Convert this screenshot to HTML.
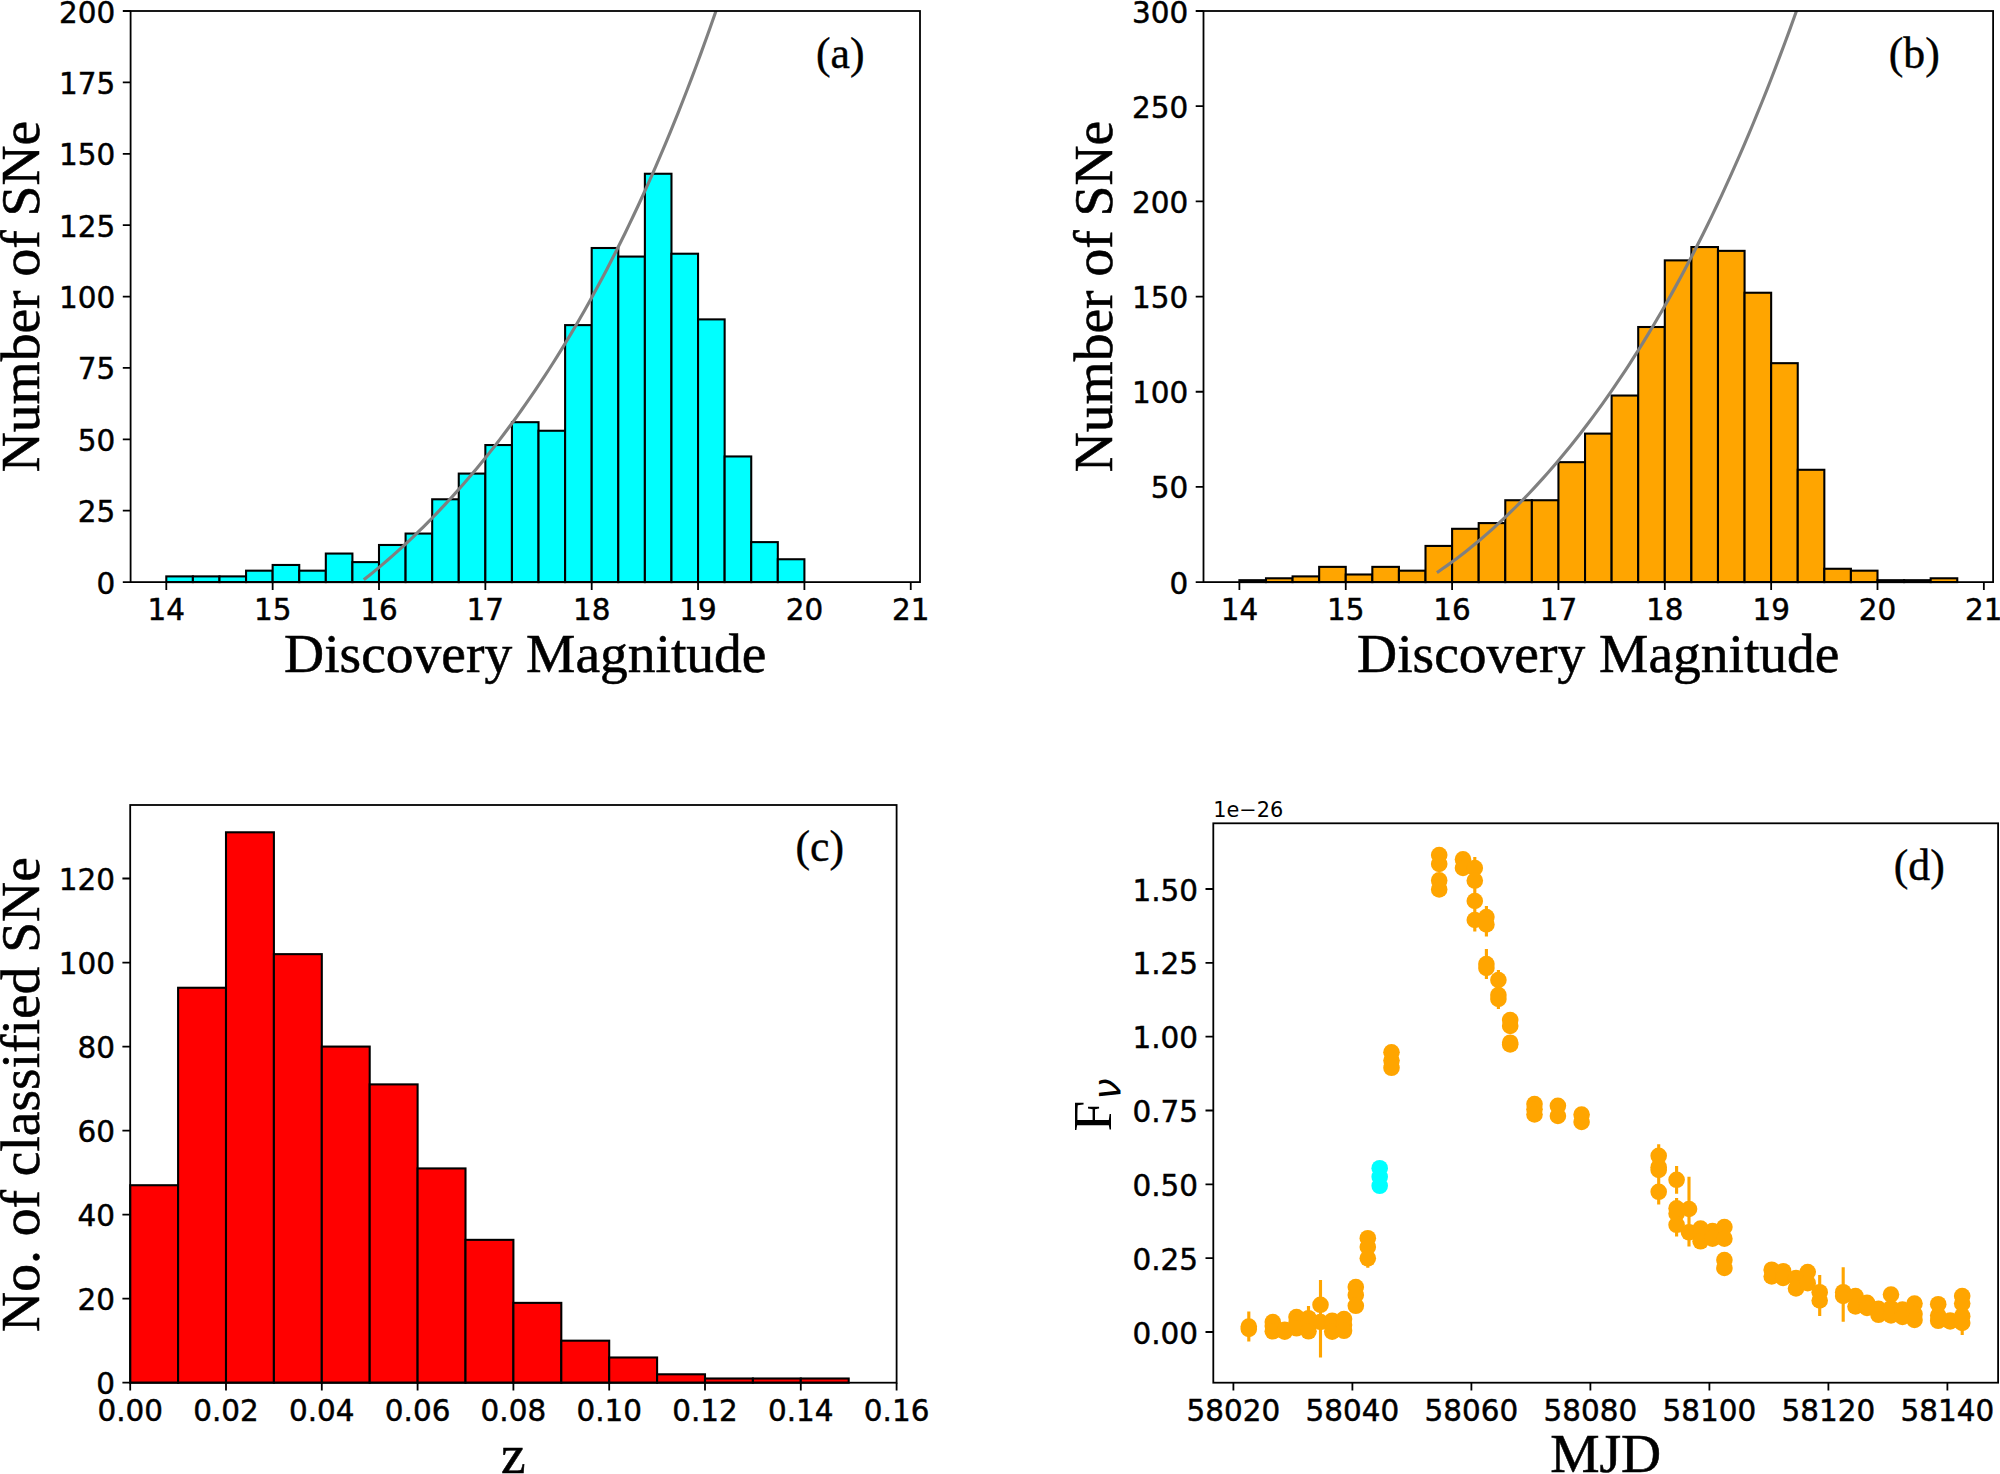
<!DOCTYPE html>
<html lang="en">
<head>
<meta charset="utf-8">
<title>Supernova discovery statistics</title>
<style>
html,body{margin:0;padding:0;background:#fff;}
body{width:2000px;height:1474px;overflow:hidden;}
svg{display:block;}
text{white-space:pre;}
</style>
</head>
<body>
<svg width="2000" height="1474" viewBox="0 0 2000 1474">
<rect width="2000" height="1474" fill="#fff"/>
<g id="panel-a">
<rect x="166.3" y="576.39" width="26.59" height="5.71" fill="#00ffff" stroke="#000" stroke-width="2.08"/>
<rect x="192.89" y="576.39" width="26.59" height="5.71" fill="#00ffff" stroke="#000" stroke-width="2.08"/>
<rect x="219.48" y="576.39" width="26.59" height="5.71" fill="#00ffff" stroke="#000" stroke-width="2.08"/>
<rect x="246.06" y="570.68" width="26.59" height="11.42" fill="#00ffff" stroke="#000" stroke-width="2.08"/>
<rect x="272.65" y="564.97" width="26.59" height="17.13" fill="#00ffff" stroke="#000" stroke-width="2.08"/>
<rect x="299.24" y="570.68" width="26.59" height="11.42" fill="#00ffff" stroke="#000" stroke-width="2.08"/>
<rect x="325.82" y="553.55" width="26.59" height="28.55" fill="#00ffff" stroke="#000" stroke-width="2.08"/>
<rect x="352.41" y="562.11" width="26.59" height="19.99" fill="#00ffff" stroke="#000" stroke-width="2.08"/>
<rect x="379" y="544.98" width="26.59" height="37.12" fill="#00ffff" stroke="#000" stroke-width="2.08"/>
<rect x="405.59" y="533.56" width="26.59" height="48.54" fill="#00ffff" stroke="#000" stroke-width="2.08"/>
<rect x="432.18" y="499.29" width="26.59" height="82.81" fill="#00ffff" stroke="#000" stroke-width="2.08"/>
<rect x="458.76" y="473.59" width="26.59" height="108.51" fill="#00ffff" stroke="#000" stroke-width="2.08"/>
<rect x="485.35" y="445.04" width="26.59" height="137.06" fill="#00ffff" stroke="#000" stroke-width="2.08"/>
<rect x="511.94" y="422.19" width="26.59" height="159.91" fill="#00ffff" stroke="#000" stroke-width="2.08"/>
<rect x="538.52" y="430.76" width="26.59" height="151.34" fill="#00ffff" stroke="#000" stroke-width="2.08"/>
<rect x="565.11" y="325.11" width="26.59" height="257" fill="#00ffff" stroke="#000" stroke-width="2.08"/>
<rect x="591.7" y="248.01" width="26.59" height="334.09" fill="#00ffff" stroke="#000" stroke-width="2.08"/>
<rect x="618.29" y="256.57" width="26.59" height="325.53" fill="#00ffff" stroke="#000" stroke-width="2.08"/>
<rect x="644.88" y="173.76" width="26.59" height="408.34" fill="#00ffff" stroke="#000" stroke-width="2.08"/>
<rect x="671.46" y="253.72" width="26.59" height="328.38" fill="#00ffff" stroke="#000" stroke-width="2.08"/>
<rect x="698.05" y="319.39" width="26.59" height="262.71" fill="#00ffff" stroke="#000" stroke-width="2.08"/>
<rect x="724.64" y="456.46" width="26.59" height="125.64" fill="#00ffff" stroke="#000" stroke-width="2.08"/>
<rect x="751.22" y="542.12" width="26.59" height="39.98" fill="#00ffff" stroke="#000" stroke-width="2.08"/>
<rect x="777.81" y="559.26" width="26.59" height="22.84" fill="#00ffff" stroke="#000" stroke-width="2.08"/>
<rect x="804.4" y="582.1" width="26.59" height="0" fill="#00ffff" stroke="#000" stroke-width="2.08"/>
<rect x="830.99" y="582.1" width="26.59" height="0" fill="#00ffff" stroke="#000" stroke-width="2.08"/>
<rect x="857.58" y="582.1" width="26.59" height="0" fill="#00ffff" stroke="#000" stroke-width="2.08"/>
<clipPath id="clipa"><rect x="130.6" y="11" width="789.4" height="571.1"/></clipPath>
<path d="M365 578.8 L369.48 575.23 L373.95 571.6 L378.43 567.89 L382.91 564.12 L387.39 560.28 L391.86 556.37 L396.34 552.39 L400.82 548.35 L405.29 544.23 L409.77 540.04 L414.25 535.78 L418.73 531.44 L423.2 527.04 L427.68 522.56 L432.16 518 L436.64 513.37 L441.11 508.67 L445.59 503.89 L450.07 499.03 L454.54 494.09 L459.02 489.07 L463.5 483.98 L467.98 478.8 L472.45 473.53 L476.93 468.19 L481.41 462.75 L485.88 457.23 L490.36 451.63 L494.84 445.93 L499.32 440.14 L503.79 434.26 L508.27 428.29 L512.75 422.22 L517.23 416.05 L521.7 409.78 L526.18 403.42 L530.66 396.95 L535.13 390.38 L539.61 383.7 L544.09 376.91 L548.57 370.02 L553.04 363.01 L557.52 355.89 L562 348.65 L566.47 341.3 L570.95 333.83 L575.43 326.23 L579.91 318.51 L584.38 310.66 L588.86 302.69 L593.34 294.58 L597.82 286.34 L602.29 277.96 L606.77 269.44 L611.25 260.78 L615.72 251.98 L620.2 243.03 L624.68 233.94 L629.16 224.69 L633.63 215.28 L638.11 205.72 L642.59 196 L647.06 186.11 L651.54 176.06 L656.02 165.83 L660.5 155.44 L664.97 144.87 L669.45 134.12 L673.93 123.19 L678.41 112.07 L682.88 100.77 L687.36 89.27 L691.84 77.58 L696.31 65.69 L700.79 53.6 L705.27 41.3 L709.75 28.8 L714.22 16.08 L718.7 3.14" fill="none" stroke="#808080" stroke-width="3.13" stroke-linecap="square" clip-path="url(#clipa)"/>
<rect x="130.6" y="11" width="789.4" height="571.1" fill="none" stroke="#000" stroke-width="1.8"/>
<path d="M166.3 582.1v7.8M272.65 582.1v7.8M379 582.1v7.8M485.35 582.1v7.8M591.7 582.1v7.8M698.05 582.1v7.8M804.4 582.1v7.8M910.75 582.1v7.8" stroke="#000" stroke-width="1.8" fill="none"/>
<g font-family='"DejaVu Sans", "Liberation Sans", sans-serif' font-size="29.17" text-anchor="middle" fill="#000" stroke="#000" stroke-width="0.45">
<text transform="translate(166.3 620) scale(1.01 1.045)">14</text>
<text transform="translate(272.65 620) scale(1.01 1.045)">15</text>
<text transform="translate(379 620) scale(1.01 1.045)">16</text>
<text transform="translate(485.35 620) scale(1.01 1.045)">17</text>
<text transform="translate(591.7 620) scale(1.01 1.045)">18</text>
<text transform="translate(698.05 620) scale(1.01 1.045)">19</text>
<text transform="translate(804.4 620) scale(1.01 1.045)">20</text>
<text transform="translate(910.75 620) scale(1.01 1.045)">21</text>
</g>
<path d="M130.6 582.1h-7.8M130.6 510.71h-7.8M130.6 439.33h-7.8M130.6 367.94h-7.8M130.6 296.55h-7.8M130.6 225.16h-7.8M130.6 153.78h-7.8M130.6 82.39h-7.8M130.6 11h-7.8" stroke="#000" stroke-width="1.8" fill="none"/>
<g font-family='"DejaVu Sans", "Liberation Sans", sans-serif' font-size="29.17" text-anchor="end" fill="#000" stroke="#000" stroke-width="0.45">
<text transform="translate(115.3 593.6) scale(1.01 1.03)">0</text>
<text transform="translate(115.3 522.21) scale(1.01 1.03)">25</text>
<text transform="translate(115.3 450.83) scale(1.01 1.03)">50</text>
<text transform="translate(115.3 379.44) scale(1.01 1.03)">75</text>
<text transform="translate(115.3 308.05) scale(1.01 1.03)">100</text>
<text transform="translate(115.3 236.66) scale(1.01 1.03)">125</text>
<text transform="translate(115.3 165.28) scale(1.01 1.03)">150</text>
<text transform="translate(115.3 93.89) scale(1.01 1.03)">175</text>
<text transform="translate(115.3 22.5) scale(1.01 1.03)">200</text>
</g>
<text x="525.3" y="672" font-family='"Liberation Serif", "DejaVu Serif", serif' font-size="55.5" text-anchor="middle" fill="#000" stroke="#000" stroke-width="0.55">Discovery Magnitude</text>
<text transform="translate(39 296.55) rotate(-90)" font-family='"Liberation Serif", "DejaVu Serif", serif' font-size="55.5" text-anchor="middle" fill="#000" stroke="#000" stroke-width="0.55">Number of SNe</text>
<text x="815.9" y="68.3" font-family='"Liberation Serif", "DejaVu Serif", serif' font-size="43.75" fill="#000" stroke="#000" stroke-width="0.4">(a)</text>
</g>
<g id="panel-b">
<rect x="1239.4" y="580.2" width="26.59" height="1.9" fill="#ffa500" stroke="#000" stroke-width="2.08"/>
<rect x="1265.99" y="578.29" width="26.59" height="3.81" fill="#ffa500" stroke="#000" stroke-width="2.08"/>
<rect x="1292.58" y="576.39" width="26.59" height="5.71" fill="#ffa500" stroke="#000" stroke-width="2.08"/>
<rect x="1319.16" y="566.87" width="26.59" height="15.23" fill="#ffa500" stroke="#000" stroke-width="2.08"/>
<rect x="1345.75" y="574.49" width="26.59" height="7.61" fill="#ffa500" stroke="#000" stroke-width="2.08"/>
<rect x="1372.34" y="566.87" width="26.59" height="15.23" fill="#ffa500" stroke="#000" stroke-width="2.08"/>
<rect x="1398.93" y="570.68" width="26.59" height="11.42" fill="#ffa500" stroke="#000" stroke-width="2.08"/>
<rect x="1425.51" y="545.93" width="26.59" height="36.17" fill="#ffa500" stroke="#000" stroke-width="2.08"/>
<rect x="1452.1" y="528.8" width="26.59" height="53.3" fill="#ffa500" stroke="#000" stroke-width="2.08"/>
<rect x="1478.69" y="523.09" width="26.59" height="59.01" fill="#ffa500" stroke="#000" stroke-width="2.08"/>
<rect x="1505.28" y="500.24" width="26.59" height="81.86" fill="#ffa500" stroke="#000" stroke-width="2.08"/>
<rect x="1531.86" y="500.24" width="26.59" height="81.86" fill="#ffa500" stroke="#000" stroke-width="2.08"/>
<rect x="1558.45" y="462.17" width="26.59" height="119.93" fill="#ffa500" stroke="#000" stroke-width="2.08"/>
<rect x="1585.04" y="433.61" width="26.59" height="148.49" fill="#ffa500" stroke="#000" stroke-width="2.08"/>
<rect x="1611.62" y="395.54" width="26.59" height="186.56" fill="#ffa500" stroke="#000" stroke-width="2.08"/>
<rect x="1638.21" y="327.01" width="26.59" height="255.09" fill="#ffa500" stroke="#000" stroke-width="2.08"/>
<rect x="1664.8" y="260.38" width="26.59" height="321.72" fill="#ffa500" stroke="#000" stroke-width="2.08"/>
<rect x="1691.39" y="247.05" width="26.59" height="335.05" fill="#ffa500" stroke="#000" stroke-width="2.08"/>
<rect x="1717.98" y="250.86" width="26.59" height="331.24" fill="#ffa500" stroke="#000" stroke-width="2.08"/>
<rect x="1744.56" y="292.74" width="26.59" height="289.36" fill="#ffa500" stroke="#000" stroke-width="2.08"/>
<rect x="1771.15" y="363.18" width="26.59" height="218.92" fill="#ffa500" stroke="#000" stroke-width="2.08"/>
<rect x="1797.74" y="469.78" width="26.59" height="112.32" fill="#ffa500" stroke="#000" stroke-width="2.08"/>
<rect x="1824.33" y="568.77" width="26.59" height="13.33" fill="#ffa500" stroke="#000" stroke-width="2.08"/>
<rect x="1850.91" y="570.68" width="26.59" height="11.42" fill="#ffa500" stroke="#000" stroke-width="2.08"/>
<rect x="1877.5" y="580.2" width="26.59" height="1.9" fill="#ffa500" stroke="#000" stroke-width="2.08"/>
<rect x="1904.09" y="580.2" width="26.59" height="1.9" fill="#ffa500" stroke="#000" stroke-width="2.08"/>
<rect x="1930.68" y="578.29" width="26.59" height="3.81" fill="#ffa500" stroke="#000" stroke-width="2.08"/>
<clipPath id="clipb"><rect x="1203.5" y="11" width="789.6" height="571.1"/></clipPath>
<path d="M1438.2 571.7 L1442.76 568.57 L1447.32 565.36 L1451.89 562.07 L1456.45 558.69 L1461.01 555.23 L1465.57 551.68 L1470.13 548.04 L1474.7 544.32 L1479.26 540.52 L1483.82 536.63 L1488.38 532.66 L1492.94 528.6 L1497.51 524.45 L1502.07 520.22 L1506.63 515.9 L1511.19 511.49 L1515.75 506.99 L1520.32 502.41 L1524.88 497.74 L1529.44 492.97 L1534 488.12 L1538.56 483.17 L1543.13 478.14 L1547.69 473 L1552.25 467.78 L1556.81 462.46 L1561.37 457.05 L1565.94 451.53 L1570.5 445.93 L1575.06 440.22 L1579.62 434.41 L1584.18 428.5 L1588.75 422.49 L1593.31 416.37 L1597.87 410.15 L1602.43 403.83 L1606.99 397.39 L1611.56 390.85 L1616.12 384.19 L1620.68 377.43 L1625.24 370.55 L1629.81 363.55 L1634.37 356.44 L1638.93 349.21 L1643.49 341.86 L1648.05 334.38 L1652.62 326.78 L1657.18 319.06 L1661.74 311.21 L1666.3 303.23 L1670.86 295.12 L1675.43 286.87 L1679.99 278.49 L1684.55 269.97 L1689.11 261.3 L1693.67 252.5 L1698.24 243.55 L1702.8 234.46 L1707.36 225.21 L1711.92 215.82 L1716.48 206.27 L1721.05 196.56 L1725.61 186.69 L1730.17 176.67 L1734.73 166.48 L1739.29 156.12 L1743.86 145.59 L1748.42 134.89 L1752.98 124.01 L1757.54 112.96 L1762.1 101.72 L1766.67 90.3 L1771.23 78.7 L1775.79 66.9 L1780.35 54.91 L1784.91 42.73 L1789.48 30.34 L1794.04 17.76 L1798.6 4.97" fill="none" stroke="#808080" stroke-width="3.13" stroke-linecap="square" clip-path="url(#clipb)"/>
<rect x="1203.5" y="11" width="789.6" height="571.1" fill="none" stroke="#000" stroke-width="1.8"/>
<path d="M1239.4 582.1v7.8M1345.75 582.1v7.8M1452.1 582.1v7.8M1558.45 582.1v7.8M1664.8 582.1v7.8M1771.15 582.1v7.8M1877.5 582.1v7.8M1983.85 582.1v7.8" stroke="#000" stroke-width="1.8" fill="none"/>
<g font-family='"DejaVu Sans", "Liberation Sans", sans-serif' font-size="29.17" text-anchor="middle" fill="#000" stroke="#000" stroke-width="0.45">
<text transform="translate(1239.4 620) scale(1.01 1.045)">14</text>
<text transform="translate(1345.75 620) scale(1.01 1.045)">15</text>
<text transform="translate(1452.1 620) scale(1.01 1.045)">16</text>
<text transform="translate(1558.45 620) scale(1.01 1.045)">17</text>
<text transform="translate(1664.8 620) scale(1.01 1.045)">18</text>
<text transform="translate(1771.15 620) scale(1.01 1.045)">19</text>
<text transform="translate(1877.5 620) scale(1.01 1.045)">20</text>
<text transform="translate(1983.85 620) scale(1.01 1.045)">21</text>
</g>
<path d="M1203.5 582.1h-7.8M1203.5 486.92h-7.8M1203.5 391.73h-7.8M1203.5 296.55h-7.8M1203.5 201.37h-7.8M1203.5 106.18h-7.8M1203.5 11h-7.8" stroke="#000" stroke-width="1.8" fill="none"/>
<g font-family='"DejaVu Sans", "Liberation Sans", sans-serif' font-size="29.17" text-anchor="end" fill="#000" stroke="#000" stroke-width="0.45">
<text transform="translate(1188.2 593.6) scale(1.01 1.03)">0</text>
<text transform="translate(1188.2 498.42) scale(1.01 1.03)">50</text>
<text transform="translate(1188.2 403.23) scale(1.01 1.03)">100</text>
<text transform="translate(1188.2 308.05) scale(1.01 1.03)">150</text>
<text transform="translate(1188.2 212.87) scale(1.01 1.03)">200</text>
<text transform="translate(1188.2 117.68) scale(1.01 1.03)">250</text>
<text transform="translate(1188.2 22.5) scale(1.01 1.03)">300</text>
</g>
<text x="1598.3" y="672" font-family='"Liberation Serif", "DejaVu Serif", serif' font-size="55.5" text-anchor="middle" fill="#000" stroke="#000" stroke-width="0.55">Discovery Magnitude</text>
<text transform="translate(1112.2 296.55) rotate(-90)" font-family='"Liberation Serif", "DejaVu Serif", serif' font-size="55.5" text-anchor="middle" fill="#000" stroke="#000" stroke-width="0.55">Number of SNe</text>
<text x="1888.8" y="68.3" font-family='"Liberation Serif", "DejaVu Serif", serif' font-size="43.75" fill="#000" stroke="#000" stroke-width="0.4">(b)</text>
</g>
<g id="panel-c">
<rect x="130.2" y="1185.23" width="47.9" height="197.47" fill="#ff0000" stroke="#000" stroke-width="2.08"/>
<rect x="178.1" y="987.76" width="47.9" height="394.94" fill="#ff0000" stroke="#000" stroke-width="2.08"/>
<rect x="226" y="832.3" width="47.9" height="550.4" fill="#ff0000" stroke="#000" stroke-width="2.08"/>
<rect x="273.9" y="954.15" width="47.9" height="428.55" fill="#ff0000" stroke="#000" stroke-width="2.08"/>
<rect x="321.8" y="1046.58" width="47.9" height="336.12" fill="#ff0000" stroke="#000" stroke-width="2.08"/>
<rect x="369.7" y="1084.39" width="47.9" height="298.31" fill="#ff0000" stroke="#000" stroke-width="2.08"/>
<rect x="417.6" y="1168.42" width="47.9" height="214.28" fill="#ff0000" stroke="#000" stroke-width="2.08"/>
<rect x="465.5" y="1239.85" width="47.9" height="142.85" fill="#ff0000" stroke="#000" stroke-width="2.08"/>
<rect x="513.4" y="1302.87" width="47.9" height="79.83" fill="#ff0000" stroke="#000" stroke-width="2.08"/>
<rect x="561.3" y="1340.68" width="47.9" height="42.02" fill="#ff0000" stroke="#000" stroke-width="2.08"/>
<rect x="609.2" y="1357.49" width="47.9" height="25.21" fill="#ff0000" stroke="#000" stroke-width="2.08"/>
<rect x="657.1" y="1374.3" width="47.9" height="8.4" fill="#ff0000" stroke="#000" stroke-width="2.08"/>
<rect x="705" y="1378.5" width="47.9" height="4.2" fill="#ff0000" stroke="#000" stroke-width="2.08"/>
<rect x="752.9" y="1378.5" width="47.9" height="4.2" fill="#ff0000" stroke="#000" stroke-width="2.08"/>
<rect x="800.8" y="1378.5" width="47.9" height="4.2" fill="#ff0000" stroke="#000" stroke-width="2.08"/>
<rect x="130.2" y="805" width="766.4" height="577.7" fill="none" stroke="#000" stroke-width="1.8"/>
<path d="M130.2 1382.7v7.8M226 1382.7v7.8M321.8 1382.7v7.8M417.6 1382.7v7.8M513.4 1382.7v7.8M609.2 1382.7v7.8M705 1382.7v7.8M800.8 1382.7v7.8M896.6 1382.7v7.8" stroke="#000" stroke-width="1.8" fill="none"/>
<g font-family='"DejaVu Sans", "Liberation Sans", sans-serif' font-size="29.17" text-anchor="middle" fill="#000" stroke="#000" stroke-width="0.45">
<text transform="translate(130.2 1420.6) scale(1.01 1.045)">0.00</text>
<text transform="translate(226 1420.6) scale(1.01 1.045)">0.02</text>
<text transform="translate(321.8 1420.6) scale(1.01 1.045)">0.04</text>
<text transform="translate(417.6 1420.6) scale(1.01 1.045)">0.06</text>
<text transform="translate(513.4 1420.6) scale(1.01 1.045)">0.08</text>
<text transform="translate(609.2 1420.6) scale(1.01 1.045)">0.10</text>
<text transform="translate(705 1420.6) scale(1.01 1.045)">0.12</text>
<text transform="translate(800.8 1420.6) scale(1.01 1.045)">0.14</text>
<text transform="translate(896.6 1420.6) scale(1.01 1.045)">0.16</text>
</g>
<path d="M130.2 1382.7h-7.8M130.2 1298.67h-7.8M130.2 1214.64h-7.8M130.2 1130.61h-7.8M130.2 1046.58h-7.8M130.2 962.55h-7.8M130.2 878.52h-7.8" stroke="#000" stroke-width="1.8" fill="none"/>
<g font-family='"DejaVu Sans", "Liberation Sans", sans-serif' font-size="29.17" text-anchor="end" fill="#000" stroke="#000" stroke-width="0.45">
<text transform="translate(114.9 1394.2) scale(1.01 1.03)">0</text>
<text transform="translate(114.9 1310.17) scale(1.01 1.03)">20</text>
<text transform="translate(114.9 1226.14) scale(1.01 1.03)">40</text>
<text transform="translate(114.9 1142.11) scale(1.01 1.03)">60</text>
<text transform="translate(114.9 1058.08) scale(1.01 1.03)">80</text>
<text transform="translate(114.9 974.05) scale(1.01 1.03)">100</text>
<text transform="translate(114.9 890.02) scale(1.01 1.03)">120</text>
</g>
<text x="513.4" y="1473" font-family='"Liberation Serif", "DejaVu Serif", serif' font-size="55.5" text-anchor="middle" fill="#000" stroke="#000" stroke-width="0.55">z</text>
<text transform="translate(39.2 1094.55) rotate(-90)" font-family='"Liberation Serif", "DejaVu Serif", serif' font-size="55.5" text-anchor="middle" fill="#000" stroke="#000" stroke-width="0.55">No. of classified SNe</text>
<text x="795.4" y="861" font-family='"Liberation Serif", "DejaVu Serif", serif' font-size="43.75" fill="#000" stroke="#000" stroke-width="0.4">(c)</text>
</g>
<g id="panel-d">
<path d="M1248.8 1311.5V1341.5M1308.5 1306V1333M1320.5 1280V1357.5M1367.8 1236V1267.8M1474.8 857V931.6M1486.4 906V936.4M1486.4 949V979M1498.4 970V1009M1658.7 1144.2V1204.5M1676.6 1166V1193.7M1676.6 1198V1236.5M1689 1176.8V1246.5M1819.7 1275V1316M1843.2 1267.2V1321.8M1962.2 1290V1335M1891 1289V1320" stroke="#ffa500" stroke-width="3.13" fill="none"/>
<g fill="#ffa500">
<circle cx="1248.8" cy="1326.5" r="8.3"/>
<circle cx="1248.8" cy="1329" r="8.3"/>
<circle cx="1272.8" cy="1322" r="8.3"/>
<circle cx="1272.8" cy="1326" r="8.3"/>
<circle cx="1272.8" cy="1331.3" r="8.3"/>
<circle cx="1284.7" cy="1329.7" r="8.3"/>
<circle cx="1284.7" cy="1331.6" r="8.3"/>
<circle cx="1296.5" cy="1317" r="8.3"/>
<circle cx="1296.5" cy="1323" r="8.3"/>
<circle cx="1296.5" cy="1328.3" r="8.3"/>
<circle cx="1308.5" cy="1318.2" r="8.3"/>
<circle cx="1308.5" cy="1325" r="8.3"/>
<circle cx="1308.5" cy="1331.3" r="8.3"/>
<circle cx="1320.5" cy="1304.8" r="8.3"/>
<circle cx="1320.5" cy="1322" r="8.3"/>
<circle cx="1332.2" cy="1320.7" r="8.3"/>
<circle cx="1332.2" cy="1326" r="8.3"/>
<circle cx="1332.2" cy="1331.6" r="8.3"/>
<circle cx="1344" cy="1319" r="8.3"/>
<circle cx="1344" cy="1325" r="8.3"/>
<circle cx="1344" cy="1330.8" r="8.3"/>
<circle cx="1355.8" cy="1287" r="8.3"/>
<circle cx="1355.8" cy="1295" r="8.3"/>
<circle cx="1355.8" cy="1305.8" r="8.3"/>
<circle cx="1367.8" cy="1238.2" r="8.3"/>
<circle cx="1367.8" cy="1247" r="8.3"/>
<circle cx="1367.8" cy="1258.3" r="8.3"/>
<circle cx="1391.5" cy="1052.3" r="8.3"/>
<circle cx="1391.5" cy="1060.5" r="8.3"/>
<circle cx="1391.5" cy="1067.8" r="8.3"/>
<circle cx="1439.2" cy="855" r="8.3"/>
<circle cx="1439.2" cy="864" r="8.3"/>
<circle cx="1439.2" cy="880.4" r="8.3"/>
<circle cx="1439.2" cy="889.4" r="8.3"/>
<circle cx="1463" cy="859.4" r="8.3"/>
<circle cx="1463" cy="868" r="8.3"/>
<circle cx="1474.8" cy="868" r="8.3"/>
<circle cx="1474.8" cy="880.6" r="8.3"/>
<circle cx="1474.8" cy="901" r="8.3"/>
<circle cx="1474.8" cy="920" r="8.3"/>
<circle cx="1486.4" cy="917" r="8.3"/>
<circle cx="1486.4" cy="924.4" r="8.3"/>
<circle cx="1486.4" cy="964" r="8.3"/>
<circle cx="1486.4" cy="968" r="8.3"/>
<circle cx="1498.4" cy="980" r="8.3"/>
<circle cx="1498.4" cy="995" r="8.3"/>
<circle cx="1498.4" cy="999" r="8.3"/>
<circle cx="1510.2" cy="1020" r="8.3"/>
<circle cx="1510.2" cy="1026" r="8.3"/>
<circle cx="1510.2" cy="1042.7" r="8.3"/>
<circle cx="1510.2" cy="1044.5" r="8.3"/>
<circle cx="1534.5" cy="1104" r="8.3"/>
<circle cx="1534.5" cy="1109.3" r="8.3"/>
<circle cx="1534.5" cy="1114.5" r="8.3"/>
<circle cx="1557.9" cy="1105.8" r="8.3"/>
<circle cx="1557.9" cy="1116" r="8.3"/>
<circle cx="1581.6" cy="1114.5" r="8.3"/>
<circle cx="1581.6" cy="1122" r="8.3"/>
<circle cx="1658.7" cy="1155.8" r="8.3"/>
<circle cx="1658.7" cy="1167.2" r="8.3"/>
<circle cx="1658.7" cy="1170" r="8.3"/>
<circle cx="1658.7" cy="1191.8" r="8.3"/>
<circle cx="1676.6" cy="1179.8" r="8.3"/>
<circle cx="1676.6" cy="1208.3" r="8.3"/>
<circle cx="1676.6" cy="1213.5" r="8.3"/>
<circle cx="1676.6" cy="1224.8" r="8.3"/>
<circle cx="1689" cy="1209" r="8.3"/>
<circle cx="1689" cy="1232.3" r="8.3"/>
<circle cx="1700.6" cy="1228.5" r="8.3"/>
<circle cx="1700.6" cy="1234.5" r="8.3"/>
<circle cx="1700.6" cy="1241.3" r="8.3"/>
<circle cx="1712.5" cy="1231" r="8.3"/>
<circle cx="1712.5" cy="1238.6" r="8.3"/>
<circle cx="1724.4" cy="1227" r="8.3"/>
<circle cx="1724.4" cy="1238.7" r="8.3"/>
<circle cx="1724.4" cy="1260" r="8.3"/>
<circle cx="1724.4" cy="1268" r="8.3"/>
<circle cx="1771.7" cy="1269.7" r="8.3"/>
<circle cx="1771.7" cy="1276.5" r="8.3"/>
<circle cx="1783.2" cy="1271.2" r="8.3"/>
<circle cx="1783.2" cy="1278" r="8.3"/>
<circle cx="1796" cy="1278" r="8.3"/>
<circle cx="1796" cy="1288.5" r="8.3"/>
<circle cx="1807.7" cy="1272" r="8.3"/>
<circle cx="1807.7" cy="1283.2" r="8.3"/>
<circle cx="1819.7" cy="1292.2" r="8.3"/>
<circle cx="1819.7" cy="1300.5" r="8.3"/>
<circle cx="1843.2" cy="1292.2" r="8.3"/>
<circle cx="1843.2" cy="1296" r="8.3"/>
<circle cx="1855.5" cy="1296" r="8.3"/>
<circle cx="1855.5" cy="1306.5" r="8.3"/>
<circle cx="1867" cy="1302.8" r="8.3"/>
<circle cx="1867" cy="1308" r="8.3"/>
<circle cx="1878.5" cy="1308.8" r="8.3"/>
<circle cx="1878.5" cy="1314.8" r="8.3"/>
<circle cx="1891" cy="1294.5" r="8.3"/>
<circle cx="1891" cy="1308" r="8.3"/>
<circle cx="1891" cy="1315.5" r="8.3"/>
<circle cx="1902.5" cy="1309.5" r="8.3"/>
<circle cx="1902.5" cy="1317" r="8.3"/>
<circle cx="1914.5" cy="1303.5" r="8.3"/>
<circle cx="1914.5" cy="1314" r="8.3"/>
<circle cx="1914.5" cy="1320" r="8.3"/>
<circle cx="1938.2" cy="1304.2" r="8.3"/>
<circle cx="1938.2" cy="1315.5" r="8.3"/>
<circle cx="1938.2" cy="1320.8" r="8.3"/>
<circle cx="1950.2" cy="1320.6" r="8.3"/>
<circle cx="1950.2" cy="1321.5" r="8.3"/>
<circle cx="1962.2" cy="1296" r="8.3"/>
<circle cx="1962.2" cy="1303.5" r="8.3"/>
<circle cx="1962.2" cy="1316.2" r="8.3"/>
<circle cx="1962.2" cy="1323" r="8.3"/>
</g>
<g fill="#00ffff">
<circle cx="1379.7" cy="1168.2" r="8.3"/>
<circle cx="1379.7" cy="1176.8" r="8.3"/>
<circle cx="1379.7" cy="1185.8" r="8.3"/>
</g>
<rect x="1213.3" y="823.3" width="784.8" height="559.4" fill="none" stroke="#000" stroke-width="1.8"/>
<path d="M1233.4 1382.7v7.8M1352.4 1382.7v7.8M1471.4 1382.7v7.8M1590.4 1382.7v7.8M1709.4 1382.7v7.8M1828.4 1382.7v7.8M1947.4 1382.7v7.8" stroke="#000" stroke-width="1.8" fill="none"/>
<g font-family='"DejaVu Sans", "Liberation Sans", sans-serif' font-size="29.17" text-anchor="middle" fill="#000" stroke="#000" stroke-width="0.45">
<text transform="translate(1233.4 1420.6) scale(1.01 1.045)">58020</text>
<text transform="translate(1352.4 1420.6) scale(1.01 1.045)">58040</text>
<text transform="translate(1471.4 1420.6) scale(1.01 1.045)">58060</text>
<text transform="translate(1590.4 1420.6) scale(1.01 1.045)">58080</text>
<text transform="translate(1709.4 1420.6) scale(1.01 1.045)">58100</text>
<text transform="translate(1828.4 1420.6) scale(1.01 1.045)">58120</text>
<text transform="translate(1947.4 1420.6) scale(1.01 1.045)">58140</text>
</g>
<path d="M1213.3 1332h-7.8M1213.3 1258.17h-7.8M1213.3 1184.34h-7.8M1213.3 1110.5h-7.8M1213.3 1036.67h-7.8M1213.3 962.84h-7.8M1213.3 889h-7.8" stroke="#000" stroke-width="1.8" fill="none"/>
<g font-family='"DejaVu Sans", "Liberation Sans", sans-serif' font-size="29.17" text-anchor="end" fill="#000" stroke="#000" stroke-width="0.45">
<text transform="translate(1198 1343.5) scale(1.01 1.03)">0.00</text>
<text transform="translate(1198 1269.67) scale(1.01 1.03)">0.25</text>
<text transform="translate(1198 1195.84) scale(1.01 1.03)">0.50</text>
<text transform="translate(1198 1122) scale(1.01 1.03)">0.75</text>
<text transform="translate(1198 1048.17) scale(1.01 1.03)">1.00</text>
<text transform="translate(1198 974.34) scale(1.01 1.03)">1.25</text>
<text transform="translate(1198 900.5) scale(1.01 1.03)">1.50</text>
</g>
<text x="1213.3" y="816.8" font-family='"DejaVu Sans", "Liberation Sans", sans-serif' font-size="20.83" fill="#000">1e−26</text>
<text x="1605.7" y="1472.3" font-family='"Liberation Serif", "DejaVu Serif", serif' font-size="55.5" text-anchor="middle" fill="#000" stroke="#000" stroke-width="0.55">MJD</text>
<text transform="translate(1110.5 1131.5) rotate(-90)" font-family='"Liberation Serif", "DejaVu Serif", serif' font-size="55.5" fill="#000">F<tspan font-family='"DejaVu Sans", "Liberation Sans", sans-serif' font-style="italic" font-size="38.2" dy="9.5" dx="1">ν</tspan></text>
<text x="1893.8" y="879.5" font-family='"Liberation Serif", "DejaVu Serif", serif' font-size="43.75" fill="#000" stroke="#000" stroke-width="0.4">(d)</text>
</g>
</svg>
</body>
</html>
